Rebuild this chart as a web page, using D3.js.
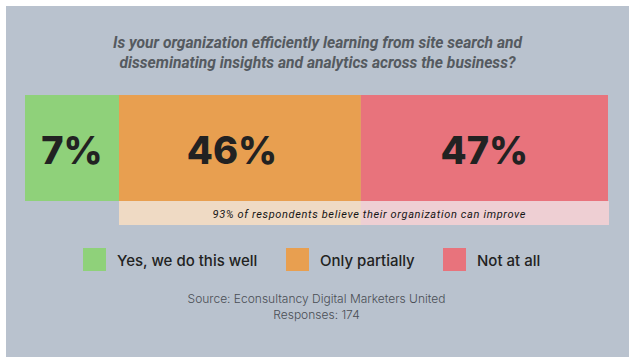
<!DOCTYPE html>
<html lang="en">
<head>
    <meta charset="UTF-8">
    <title>Site search learning</title>
    <script type="text/javascript" src="https://cdnjs.cloudflare.com/ajax/libs/d3/7.8.5/d3.min.js"></script>
    <style>
        body { margin: 0; background: #fff; }
    </style>
</head>
<body>
<div id="chart"></div>
<script>
    // data
    var categories = ["Yes, we do this well", "Only partially", "Not at all"];
    var values = [7, 46, 47];
    var titleLines = ["Is your organization efficiently learning from site search and",
        "disseminating insights and analytics across the business?"];
    var bandNote = "93% of respondents believe their organization can improve";
    var sourceLines = ["Source: Econsultancy Digital Marketers United", "Responses: 174"];

    var width = 636, height = 363;

    var color = d3.scaleOrdinal()
        .domain(categories)
        .range(["#8fd17a", "#e89f50", "#e8737c"]);
    var tint = d3.scaleOrdinal()
        .domain(categories)
        .range(["#dff0d8", "#efdac4", "#eecfd3"]);

    var svg = d3.select("#chart")
        .append("svg")
        .attr("width", width)
        .attr("height", height);

    // panel
    svg.append("rect")
        .attr("x", 6).attr("y", 6)
        .attr("width", 623).attr("height", 351)
        .attr("fill", "#b9c2ce");

    // title
    svg.append("g")
        .selectAll("text")
        .data(titleLines)
        .join("text")
        .attr("x", 317.5)
        .attr("y", function(d, i) { return 47.5 + i * 20.5; })
        .attr("text-anchor", "middle")
        .attr("textLength", function(d, i) { return i ? 396 : 409; })
        .attr("lengthAdjust", "spacingAndGlyphs")
        .style("font-family", "Roboto, 'Liberation Sans', sans-serif")
        .style("font-style", "italic")
        .style("font-weight", 700)
        .style("font-size", "16px")
        .attr("fill", "#555a60")
        .text(function(d) { return d; });

    // the 93% who can improve share one linear scale; the 7% gets a minimum box
    var improve = values.slice(1);
    var x = d3.scaleLinear()
        .domain([0, d3.sum(improve)])
        .range([119, 608]);
    var minBox = 94;

    var offsets = [0];
    improve.forEach(function(v, i) { offsets.push(offsets[i] + v); });

    var segs = categories.map(function(c, i) {
        if (i === 0) return {cat: c, value: values[0], x0: x(0) - minBox, x1: x(0)};
        return {cat: c, value: values[i], x0: x(offsets[i - 1]), x1: x(offsets[i])};
    });

    var barTop = 95, barBottom = 201, bandBottom = 225;

    svg.append("g")
        .selectAll("rect")
        .data(segs)
        .join("rect")
        .attr("x", function(d) { return d.x0; })
        .attr("y", barTop)
        .attr("width", function(d) { return d.x1 - d.x0; })
        .attr("height", barBottom - barTop)
        .attr("fill", function(d) { return color(d.cat); });

    // light band under the improvable part
    svg.append("g")
        .selectAll("rect")
        .data(segs.slice(1))
        .join("rect")
        .attr("x", function(d) { return d.x0; })
        .attr("y", barBottom)
        .attr("width", function(d) { return d.x1 - d.x0 + 1; })
        .attr("height", bandBottom - barBottom)
        .attr("fill", function(d) { return tint(d.cat); });

    svg.append("text")
        .attr("x", 369)
        .attr("y", 217.5)
        .attr("text-anchor", "middle")
        .attr("textLength", 313)
        .attr("lengthAdjust", "spacing")
        .style("font-family", "Roboto, sans-serif")
        .style("font-style", "italic")
        .style("font-size", "11px")
        .attr("fill", "#151515")
        .text(bandNote);

    // percentages
    svg.append("g")
        .selectAll("text")
        .data(segs)
        .join("text")
        .attr("x", function(d, i) { return (d.x0 + d.x1) / 2 - (i === 1 ? 8 : 0); })
        .attr("y", 164)
        .attr("text-anchor", "middle")
        .style("font-family", "Inter, 'Open Sans', sans-serif")
        .style("font-weight", 800)
        .style("font-size", "38px")
        .attr("fill", "#222")
        .text(function(d) { return d.value + "%"; });

    // legend
    var legendX = [83, 286, 443];
    var legend = svg.append("g")
        .selectAll("g")
        .data(categories)
        .join("g")
        .attr("transform", function(d, i) { return "translate(" + legendX[i] + ",248)"; });

    legend.append("rect")
        .attr("width", 23)
        .attr("height", 23)
        .attr("fill", function(d) { return color(d); });

    legend.append("text")
        .attr("x", 34)
        .attr("y", 18)
        .style("font-family", "Inter, 'Open Sans', sans-serif")
        .style("font-weight", 500)
        .style("font-size", "15px")
        .attr("fill", "#222")
        .text(function(d) { return d; });

    // source
    svg.append("g")
        .selectAll("text")
        .data(sourceLines)
        .join("text")
        .attr("x", 316.5)
        .attr("y", function(d, i) { return 303 + i * 16; })
        .attr("text-anchor", "middle")
        .style("font-family", "Inter, 'Open Sans', sans-serif")
        .style("font-weight", 300)
        .style("font-size", "12px")
        .attr("fill", "#4a4e55")
        .text(function(d) { return d; });
</script>
</body>
</html>
